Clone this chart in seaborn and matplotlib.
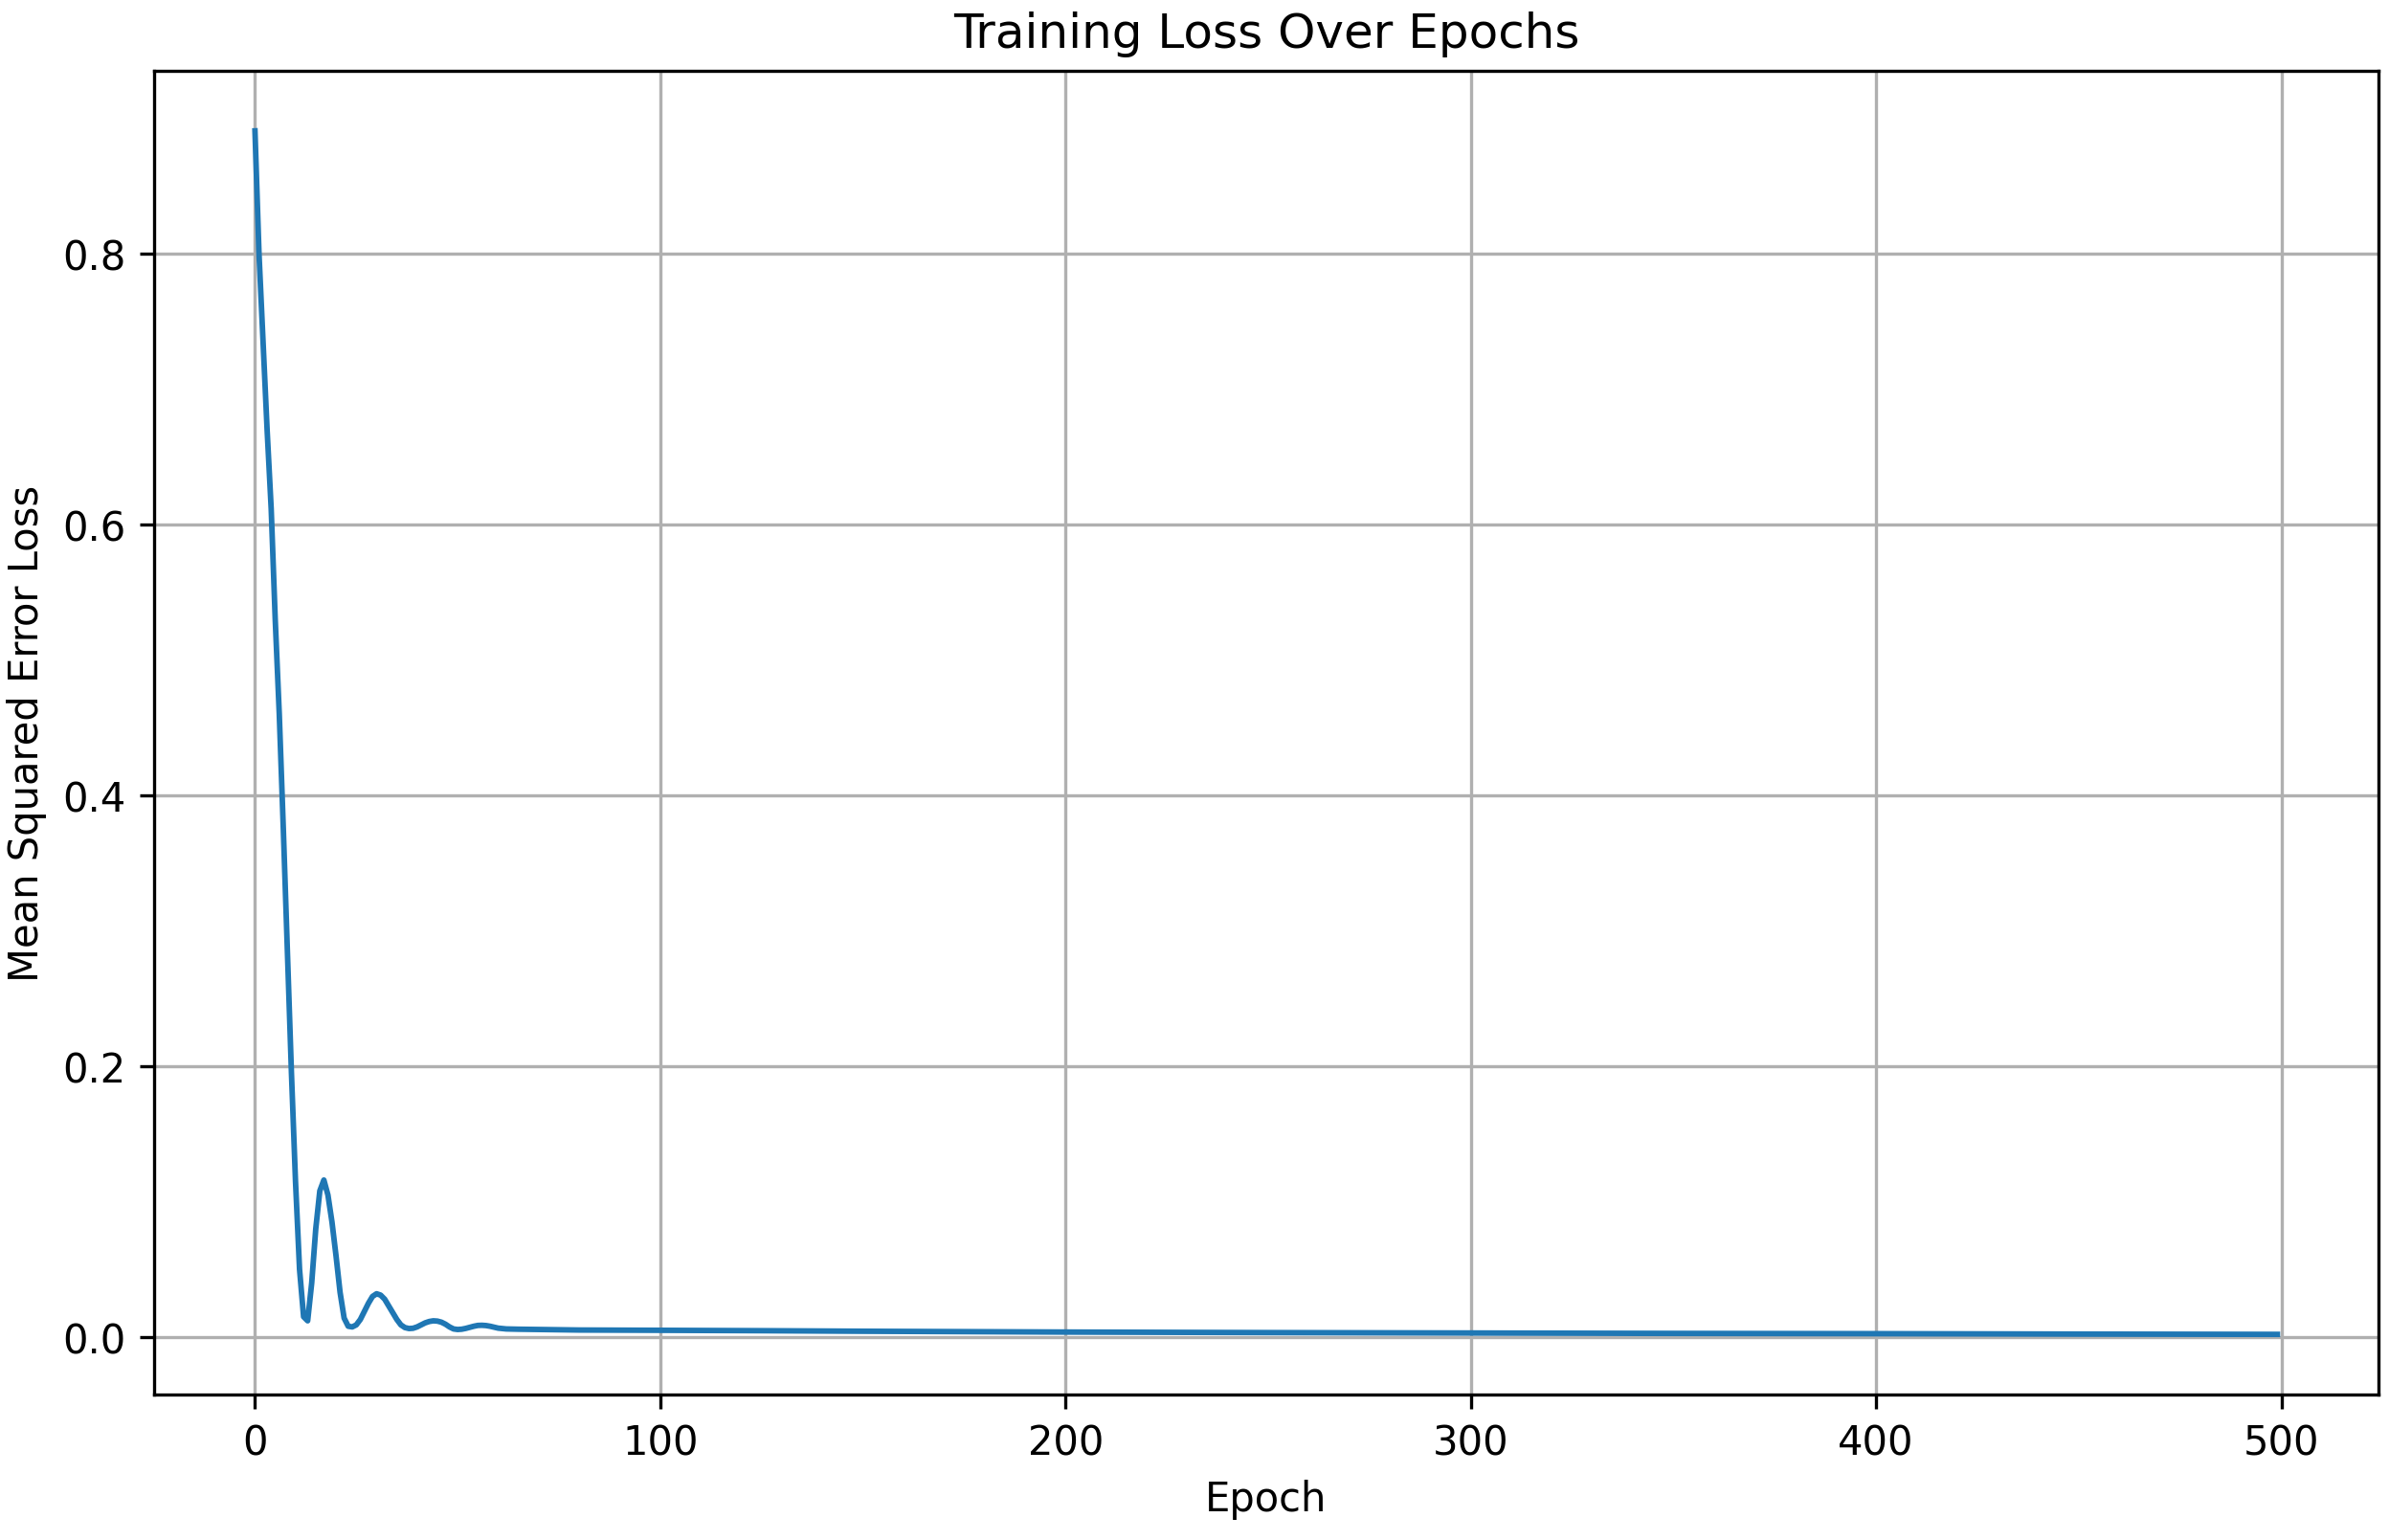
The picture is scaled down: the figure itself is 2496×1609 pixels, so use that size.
import pandas as pd
import matplotlib
matplotlib.use("Agg")
import matplotlib.pyplot as plt
import seaborn as sns

# valores (época -> pérdida MSE)
epocas = list(range(0, 61)) + [62, 65, 70, 80, 100, 125, 150, 200, 250, 300, 350, 400, 450, 499]
perdida = [
    0.891, 0.800, 0.735, 0.670, 0.612, 0.530, 0.460, 0.375, 0.285, 0.195,
    0.115, 0.050, 0.015, 0.012, 0.040, 0.080, 0.108, 0.116, 0.105, 0.085,
    0.060, 0.033, 0.014, 0.008, 0.0075, 0.009, 0.013, 0.019, 0.025, 0.030,
    0.032, 0.031, 0.028, 0.023, 0.018, 0.013, 0.009, 0.007, 0.0063, 0.0065,
    0.0075, 0.009, 0.0105, 0.0115, 0.012, 0.0118, 0.011, 0.0095, 0.0075, 0.006,
    0.0056, 0.0058, 0.0064, 0.0072, 0.008, 0.0086, 0.0087, 0.0085, 0.008, 0.0073,
    0.0066,
    0.0060, 0.0058, 0.0056, 0.0052, 0.0050, 0.0047, 0.0043, 0.0037, 0.0033,
    0.0030, 0.0027, 0.0025, 0.0022, 0.0020,
]

titulo = "Training Loss Over Epochs"
etiqueta_x = "Epoch"
etiqueta_y = "Mean Squared Error Loss"

df = pd.DataFrame({"epoch": epocas, "loss": perdida})

plt.rcParams["font.family"] = ["DejaVu Sans"]

fig = plt.figure(figsize=(2496 / 300, 1610 / 300), dpi=300)
ax = fig.add_axes([0.0644, 0.0944, 0.9312, 0.8591])

sns.lineplot(data=df, x="epoch", y="loss", ax=ax, color="#1f77b4", linewidth=1.4)

ax.set_title(titulo, fontsize=12)
ax.set_xlabel(etiqueta_x, fontsize=10)
ax.set_ylabel(etiqueta_y, fontsize=10)
ax.tick_params(labelsize=10)
ax.grid(True)

fig.savefig("out.png", dpi=300)
